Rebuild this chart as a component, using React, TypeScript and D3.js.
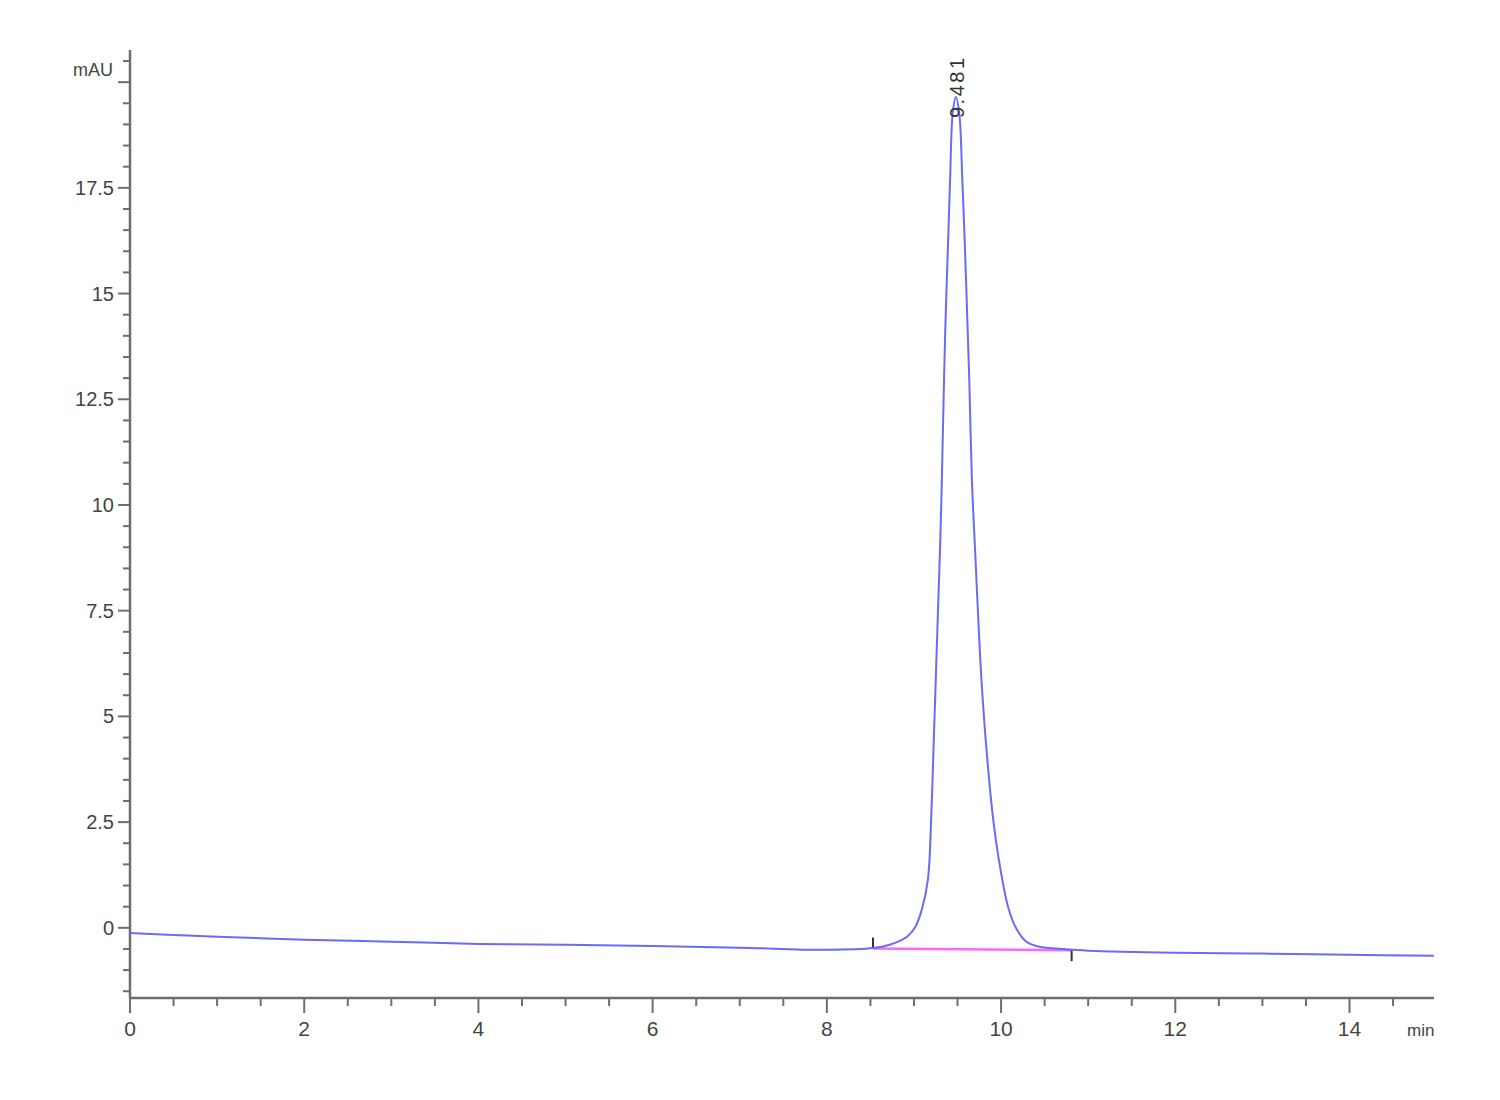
import * as d3 from "d3";
import React from "react";

// chromatogram trace (min, mAU)
const times = [
  0, 0.5, 1, 2, 3, 4, 5, 6, 7, 8, 8.53, 8.72, 8.92, 9.01, 9.09, 9.16, 9.2,
  9.225, 9.25, 9.275, 9.3, 9.32, 9.345, 9.365, 9.39, 9.415, 9.445, 9.481,
  9.52, 9.555, 9.585, 9.61, 9.635, 9.665, 9.7, 9.735, 9.775, 9.83, 9.91,
  9.98, 10.08, 10.17, 10.29, 10.44, 10.7, 11, 12, 13, 14, 14.97,
];
const signal = [
  -0.12, -0.17, -0.21, -0.28, -0.33, -0.38, -0.4, -0.43, -0.47, -0.52, -0.48,
  -0.4, -0.21, 0.0, 0.43, 1.14, 2.72, 4.28, 5.86, 7.45, 9.01, 10.59, 12.96,
  14.54, 16.1, 17.69, 19.27, 19.65, 19.27, 17.69, 16.1, 14.54, 12.96, 10.59,
  9.01, 7.45, 5.86, 4.28, 2.55, 1.54, 0.5, 0.0, -0.33, -0.45, -0.5, -0.54,
  -0.59, -0.61, -0.64, -0.66,
];

// integration baseline
const baseStart = [8.53, -0.49];
const baseEnd = [10.81, -0.53];
const peakLabel = "9.481";
const peakTime = 9.481;

const xTickLabels = [0, 2, 4, 6, 8, 10, 12, 14];
const yTickLabels = [0, 2.5, 5, 7.5, 10, 12.5, 15, 17.5];
const xUnit = "min";
const yUnit = "mAU";

const W = 1500;
const H = 1100;

const x = d3.scaleLinear().domain([0, 14.97]).range([130, 1434]);
const y = d3.scaleLinear().domain([-1.66, 20.76]).range([998, 50]);

const axisColor = "#6e6e6e";
const textColor = "#444";
const font = "Arial, 'Liberation Sans', sans-serif";

const App: React.FC = () => {
  const pts: Array<[number, number]> = times.map((t, i) => [t, signal[i]]);
  const line = d3
    .line<[number, number]>()
    .x((d) => x(d[0]))
    .y((d) => y(d[1]))
    .curve(d3.curveCatmullRom.alpha(0.5));

  const xMinor = d3.range(0, 15, 0.5);
  const yMinor = d3.range(-1.5, 20.6, 0.5);
  const [x0, x1] = x.range();
  const [yBottom, yTop] = y.range();

  return (
    <svg
      width={W}
      height={H}
      style={{ position: "absolute", left: 0, top: 0, background: "#fff" }}
      fontFamily={font}
    >
      {/* y axis */}
      <line x1={x0} x2={x0} y1={yTop} y2={yBottom} stroke={axisColor} strokeWidth={2.5} />
      {yMinor.map((v) => {
        const major = Math.abs(v % 2.5) < 1e-6;
        return (
          <line
            key={"yt" + v}
            x1={x0 - (major ? 12 : 7)}
            x2={x0}
            y1={y(v)}
            y2={y(v)}
            stroke={axisColor}
            strokeWidth={2}
          />
        );
      })}
      {yTickLabels.map((v) => (
        <text
          key={"yl" + v}
          x={x0 - 16}
          y={y(v)}
          dy="0.35em"
          textAnchor="end"
          fontSize={20}
          fill={textColor}
        >
          {v}
        </text>
      ))}
      <text x={x0 - 17} y={y(20.3)} dy="0.35em" textAnchor="end" fontSize={18} fill={textColor}>
        {yUnit}
      </text>

      {/* x axis */}
      <line x1={x0} x2={x1} y1={yBottom} y2={yBottom} stroke={axisColor} strokeWidth={2.5} />
      {xMinor.map((v) => {
        const major = Math.abs(v % 2) < 1e-6;
        return (
          <line
            key={"xt" + v}
            x1={x(v)}
            x2={x(v)}
            y1={yBottom}
            y2={yBottom + (major ? 15 : 8)}
            stroke={axisColor}
            strokeWidth={2}
          />
        );
      })}
      {xTickLabels.map((v) => (
        <text
          key={"xl" + v}
          x={x(v)}
          y={yBottom + 38}
          textAnchor="middle"
          fontSize={21}
          fill={textColor}
        >
          {v}
        </text>
      ))}
      <text x={1407} y={yBottom + 38} fontSize={17} fill={textColor}>
        {xUnit}
      </text>

      {/* integration baseline */}
      <line
        x1={x(baseStart[0])}
        y1={y(baseStart[1])}
        x2={x(baseEnd[0])}
        y2={y(baseEnd[1])}
        stroke="#ff66ff"
        strokeWidth={2.5}
      />
      <line
        x1={x(baseStart[0])}
        x2={x(baseStart[0])}
        y1={y(baseStart[1]) - 11}
        y2={y(baseStart[1])}
        stroke="#333"
        strokeWidth={2}
      />
      <line
        x1={x(baseEnd[0])}
        x2={x(baseEnd[0])}
        y1={y(baseEnd[1])}
        y2={y(baseEnd[1]) + 11}
        stroke="#333"
        strokeWidth={2}
      />

      {/* trace */}
      <path d={line(pts) || ""} fill="none" stroke="#6b6bf5" strokeWidth={2} />

      {/* peak label */}
      <text
        transform={`translate(${x(peakTime) + 8}, ${118}) rotate(-90)`}
        fontSize={20}
        letterSpacing={2.5}
        fill="#333"
      >
        {peakLabel}
      </text>
    </svg>
  );
};

export default App;
